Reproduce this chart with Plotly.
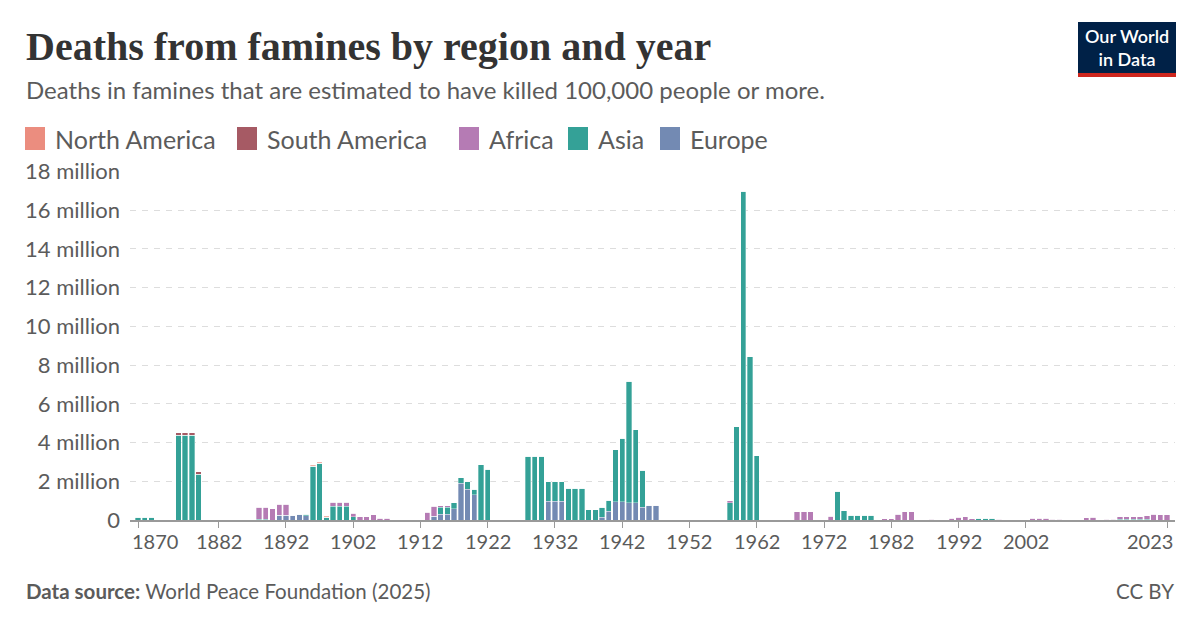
import plotly.graph_objects as go

# ---------------- data (deaths, millions) ----------------
years = [1870, 1871, 1872, 1876, 1877, 1878, 1879,
         1888, 1889, 1890, 1891, 1892, 1893, 1894, 1895, 1896, 1897, 1898,
         1899, 1900, 1901, 1902, 1903, 1904, 1905, 1906, 1907,
         1913, 1914, 1915, 1916, 1917, 1918, 1919, 1920, 1921, 1922,
         1928, 1929, 1930, 1931, 1932, 1933, 1934, 1935, 1936, 1937, 1938,
         1939, 1940, 1941, 1942, 1943, 1944, 1945, 1946, 1947,
         1958, 1959, 1960, 1961, 1962,
         1968, 1969, 1970, 1973, 1974, 1975, 1976, 1977, 1978, 1979,
         1981, 1982, 1983, 1984, 1985, 1988,
         1991, 1992, 1993, 1994, 1995, 1996, 1997, 1998, 1999, 2000, 2001,
         2003, 2004, 2005, 2006, 2007,
         2011, 2012, 2013, 2014, 2015, 2016, 2017, 2018, 2019, 2020, 2021, 2022, 2023]

europe = [0, 0, 0, 0, 0, 0, 0,
          0, 0, 0, 0.24, 0.24, 0.24, 0.26, 0.22, 0, 0, 0,
          0, 0, 0, 0, 0, 0, 0, 0, 0,
          0, 0.20, 0.31, 0.31, 0.58, 1.91, 1.60, 1.30, 0, 0,
          0, 0, 0, 0.98, 0.98, 0.98, 0, 0, 0, 0, 0,
          0.14, 0.45, 0.93, 0.93, 0.88, 0.88, 0.65, 0.77, 0.77,
          0, 0, 0, 0, 0,
          0, 0, 0, 0, 0, 0, 0, 0, 0, 0,
          0, 0, 0, 0, 0, 0,
          0, 0, 0, 0, 0, 0, 0, 0, 0, 0, 0,
          0, 0, 0, 0, 0,
          0, 0, 0, 0, 0, 0, 0, 0, 0, 0, 0, 0, 0]

asia = [0.15, 0.15, 0.15, 4.38, 4.38, 4.38, 2.35,
        0.05, 0.05, 0, 0, 0, 0, 0.03, 0.07, 2.78, 2.94, 0.14,
        0.70, 0.70, 0.70, 0.17, 0, 0, 0, 0, 0,
        0, 0, 0.34, 0.34, 0.30, 0.27, 0.37, 0.28, 2.85, 2.61,
        3.30, 3.30, 3.30, 0.99, 0.99, 0.99, 1.65, 1.65, 1.65, 0.53, 0.53,
        0.53, 0.56, 2.69, 3.30, 6.28, 3.77, 1.93, 0, 0,
        0.89, 4.81, 16.97, 8.43, 3.33,
        0, 0, 0, 0, 1.49, 0.48, 0.24, 0.24, 0.24, 0.24,
        0, 0, 0, 0, 0, 0,
        0, 0, 0, 0, 0.09, 0.09, 0.09, 0, 0, 0, 0,
        0, 0, 0, 0, 0,
        0, 0, 0.02, 0, 0, 0.04, 0.04, 0.04, 0.04, 0.04, 0, 0, 0]

africa = [0, 0, 0, 0, 0, 0, 0,
          0.60, 0.60, 0.58, 0.58, 0.58, 0, 0, 0, 0, 0, 0,
          0.21, 0.21, 0.21, 0.17, 0.17, 0.17, 0.26, 0.09, 0.09,
          0.39, 0.50, 0.09, 0.09, 0, 0, 0, 0, 0, 0,
          0, 0, 0, 0, 0, 0, 0, 0, 0, 0, 0,
          0, 0, 0, 0, 0, 0, 0, 0, 0,
          0.10, 0, 0, 0, 0,
          0.42, 0.42, 0.42, 0.20, 0, 0, 0, 0, 0, 0,
          0.07, 0.07, 0.31, 0.43, 0.43, 0.03,
          0.10, 0.15, 0.17, 0.07, 0, 0, 0, 0.04, 0.02, 0.02, 0.02,
          0.09, 0.10, 0.10, 0.03, 0.03,
          0.12, 0.15, 0, 0.04, 0.04, 0.14, 0.14, 0.14, 0.12, 0.17, 0.30, 0.26, 0.26]

south_america = [0, 0, 0, 0.12, 0.12, 0.12, 0.13] + [0] * 102

north_america = [0, 0, 0, 0, 0, 0, 0,
                 0, 0, 0, 0, 0, 0, 0, 0.03, 0.05, 0.05, 0.05] + [0] * 91

series = [  # bottom to top
    ("Europe", europe, "#738AB3"),
    ("Asia", asia, "#34A197"),
    ("Africa", africa, "#B57BB4"),
    ("South America", south_america, "#A65A64"),
    ("North America", north_america, "#EB8D7F"),
]
legend_order = ["North America", "South America", "Africa", "Asia", "Europe"]

x_ticks = [1870, 1882, 1892, 1902, 1912, 1922, 1932, 1942, 1952, 1962,
           1972, 1982, 1992, 2002, 2023]
y_ticks = [0, 2, 4, 6, 8, 10, 12, 14, 16, 18]
y_tick_text = ["0"] + [f"{v} million" for v in y_ticks[1:]]

# ---------------- layout helpers ----------------
W, H = 1200, 627
L, R, T, B = 130, 25, 171, 107
PW, PH = W - L - R, H - T - B


def px(x):
    return (x - L) / PW


def py(y):
    return (H - B - y) / PH


GREY = "#5b5b5b"
FONT = "Lato"

fig = go.Figure()
for name, vals, color in series:
    fig.add_trace(go.Bar(
        x=years, y=[v * 1e6 for v in vals], name=name,
        marker=dict(color=color, line=dict(color="rgba(255,255,255,0.55)", width=0.6)),
        showlegend=False,
    ))

annotations = []
shapes = []

# title / subtitle
annotations.append(dict(text="Deaths from famines by region and year", x=px(24), y=py(46),
                        xref="paper", yref="paper", xanchor="left", yanchor="middle", showarrow=False,
                        font=dict(family="Liberation Serif", size=40, color="#333333", weight=600)))
annotations.append(dict(text="Deaths in famines that are estimated to have killed 100,000 people or more.",
                        x=px(24), y=py(89), xref="paper", yref="paper", xanchor="left", yanchor="middle",
                        showarrow=False, font=dict(family=FONT, size=24, color=GREY)))

# legend (custom)
legend_x = {"North America": 25, "South America": 237, "Africa": 459, "Asia": 568, "Europe": 660}
colors = {n: c for n, _, c in series}
for name in legend_order:
    x0 = legend_x[name]
    shapes.append(dict(type="rect", xref="paper", yref="paper", x0=px(x0), x1=px(x0 + 20),
                       y0=py(150), y1=py(127), fillcolor=colors[name], line=dict(width=0)))
    annotations.append(dict(text=name, x=px(x0 + 28), y=py(139), xref="paper", yref="paper",
                            xanchor="left", yanchor="middle", showarrow=False,
                            font=dict(family=FONT, size=25, color=GREY)))

# x tick labels
for yr in x_ticks:
    if yr == x_ticks[0]:
        ax, xa, xr = 0, "left", "paper"
    elif yr == x_ticks[-1]:
        ax, xa, xr = 1, "right", "paper"
    else:
        ax, xa, xr = yr, "center", "x"
    annotations.append(dict(text=str(yr), x=ax, y=py(541), xref=xr, yref="paper", xanchor=xa,
                            yanchor="middle", showarrow=False, font=dict(family=FONT, size=20, color=GREY)))

# footer
annotations.append(dict(text="<b>Data source:</b> World Peace Foundation (2025)", x=px(24), y=py(591),
                        xref="paper", yref="paper", xanchor="left", yanchor="middle", showarrow=False,
                        font=dict(family=FONT, size=20.5, color=GREY)))
annotations.append(dict(text="CC BY", x=px(1176), y=py(591), xref="paper", yref="paper",
                        xanchor="right", yanchor="middle", showarrow=False,
                        font=dict(family=FONT, size=20.5, color=GREY)))

# logo
shapes.append(dict(type="rect", xref="paper", yref="paper", x0=px(1078), x1=px(1176),
                   y0=py(73), y1=py(22), fillcolor="#002147", line=dict(width=0)))
shapes.append(dict(type="rect", xref="paper", yref="paper", x0=px(1078), x1=px(1176),
                   y0=py(77), y1=py(73), fillcolor="#CE261E", line=dict(width=0)))
annotations.append(dict(text="Our World<br>in Data", x=px(1127), y=py(47), xref="paper", yref="paper",
                        xanchor="center", yanchor="middle", showarrow=False,
                        font=dict(family=FONT, size=18, color="white", weight=600)))

fig.update_layout(
    width=W, height=H, barmode="stack", bargap=0.2,
    margin=dict(l=L, r=R, t=T, b=B, pad=0),
    plot_bgcolor="white", paper_bgcolor="white",
    font=dict(family=FONT, color=GREY),
    annotations=annotations, shapes=shapes,
    xaxis=dict(range=[1868.81, 2024.19], tickvals=x_ticks, showticklabels=False,
               ticks="outside", ticklen=6, tickcolor="#999999", tickwidth=1,
               showline=True, linecolor="#999999", linewidth=1.5, showgrid=False, zeroline=False),
    yaxis=dict(range=[0, 18.02e6], tickvals=[v * 1e6 for v in y_ticks], ticktext=y_tick_text,
               showgrid=True, gridcolor="#dddddd", griddash="6px,6px", gridwidth=1,
               zeroline=False, showline=False, ticks="", ticklabelstandoff=9,
               tickfont=dict(family=FONT, size=22, color=GREY)),
)

fig.write_html("out.html")
